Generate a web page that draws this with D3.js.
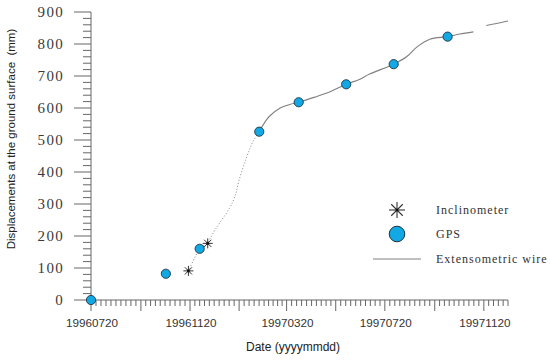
<!DOCTYPE html>
<html><head><meta charset="utf-8">
<script src="https://cdn.jsdelivr.net/npm/d3@7"></script>
<style>body{margin:0;background:#fff}svg{display:block}</style>
</head><body>
<svg id="c" width="550" height="361"></svg>
<script>
// ---------- data ----------
const yTicks = [0,100,200,300,400,500,600,700,800,900];
const xTickLabels = ["19960720","19961120","19970320","19970720","19971120"];
const xDomain = ["19960720","19971220"];
const gpsDates = ["19960720","19961021","19961202","19970214","19970404","19970602","19970731","19971006"];
const gpsValues = [0,82,160,526,618,674,737,823];
const inclDates = ["19961118","19961212"];
const inclValues = [91,177];
// extensometric wire: dotted part, solid part, final solid piece
const wireDottedDates = ["19961118","19961202","19961212","19961221","19970108","19970115","19970120","19970129","19970206","19970214"];
const wireDottedValues = [90,159,181,219,287,325,375,444,494,526];
const wireSolidDates = ["19970214","19970221","19970227","19970312","19970324","19970404","19970424","19970513","19970602","19970619","19970701","19970731","19970816","19970829","19970914","19971006","19971021","19971107"];
const wireSolidValues = [526,556,575,600,611,618,634,651,674,690,706,737,760,791,815,823,831,838];
const wireEndDates = ["19971123","19971206","19971220"];
const wireEndValues = [858,864,872];

// ---------- setup ----------
const parse = d3.timeParse("%Y%m%d");
const svg = d3.select("#c");
const x = d3.scaleTime().domain(xDomain.map(parse)).range([91,508]);
const y = d3.scaleLinear().domain([0,900]).range([300,12]);
const axisColor = "#666";

// y axis
const gy = svg.append("g");
gy.append("line").attr("x1",91).attr("x2",91).attr("y1",y(900)).attr("y2",y(0)).attr("stroke",axisColor).attr("stroke-width",1);
d3.range(0,901,20).forEach(v=>{
  const major = v%100===0;
  gy.append("line").attr("x1",major?74:83).attr("x2",91).attr("y1",y(v)).attr("y2",y(v))
    .attr("stroke",axisColor).attr("stroke-width",1);
});
gy.selectAll("text.yl").data(yTicks).enter().append("text")
  .attr("x",64).attr("y",d=>y(d)+5).attr("text-anchor","end")
  .attr("font-family","Liberation Serif").attr("font-size",15).attr("letter-spacing",1.3)
  .attr("fill","#3a3a3a").text(d=>d);

// x axis
const gx = svg.append("g");
gx.append("line").attr("x1",91).attr("x2",508).attr("y1",300).attr("y2",300).attr("stroke",axisColor);
const start = parse(xDomain[0]);
const nMonths = 17;
for(let m=0;m<nMonths;m++){
  const a = d3.timeMonth.offset(start,m), b = d3.timeMonth.offset(start,m+1);
  for(let k=0;k<5;k++){
    const px = x(a) + (x(b)-x(a))*k/5;
    const long = (k===0 && m%2===0);
    gx.append("line").attr("x1",px).attr("x2",px).attr("y1",300).attr("y2",long?311:306)
      .attr("stroke",axisColor);
  }
}
{ const px = x(d3.timeMonth.offset(start,nMonths));
  gx.append("line").attr("x1",px).attr("x2",px).attr("y1",300).attr("y2",306).attr("stroke",axisColor); }
gx.selectAll("text.xl").data(xTickLabels).enter().append("text")
  .attr("x",d=>x(parse(d))+1).attr("y",327).attr("text-anchor","middle")
  .attr("font-family","Liberation Sans").attr("font-size",11.7).attr("fill","#333").text(d=>d);

// titles
svg.append("text").attr("x",293).attr("y",351).attr("text-anchor","middle")
  .attr("font-family","Liberation Sans").attr("font-size",12).attr("fill","#222").text("Date (yyyymmdd)");
svg.append("text").attr("transform","translate(15,139) rotate(-90)").attr("text-anchor","middle")
  .attr("font-family","Liberation Sans").attr("font-size",11.5).attr("fill","#222")
  .style("white-space","pre").text("Displacements at the ground surface  (mm)");

// wire
const line = d3.line().x(d=>x(d[0])).y(d=>y(d[1])).curve(d3.curveCatmullRom);
const zip = (ds,vs)=>ds.map((d,i)=>[parse(d),vs[i]]);
svg.append("path").attr("d",line(zip(wireDottedDates,wireDottedValues)))
  .attr("fill","none").attr("stroke","#888").attr("stroke-width",1).attr("stroke-dasharray","1,2");
svg.append("path").attr("d",line(zip(wireSolidDates,wireSolidValues)))
  .attr("fill","none").attr("stroke","#808080").attr("stroke-width",1.1);
svg.append("path").attr("d",line(zip(wireEndDates,wireEndValues)))
  .attr("fill","none").attr("stroke","#808080").attr("stroke-width",1.1);

// star symbol
function star(g,cx,cy,r,sw){
  const s = g.append("g").attr("transform",`translate(${cx},${cy})`);
  const d = r*0.72;
  [[-r,0,r,0],[0,-r,0,r],[-d,-d,d,d],[-d,d,d,-d]].forEach(l=>
    s.append("line").attr("x1",l[0]).attr("y1",l[1]).attr("x2",l[2]).attr("y2",l[3])
      .attr("stroke","#333").attr("stroke-width",sw));
  s.append("rect").attr("x",-1.3).attr("y",-1.3).attr("width",2.6).attr("height",2.6).attr("fill","#111");
}
zip(inclDates,inclValues).forEach(p=>star(svg,x(p[0]),y(p[1]),5,1));

// GPS
svg.selectAll("circle.gps").data(zip(gpsDates,gpsValues)).enter().append("circle")
  .attr("cx",d=>x(d[0])).attr("cy",d=>y(d[1])).attr("r",4.6)
  .attr("fill","#12a8e4").attr("stroke","#1d3444").attr("stroke-width",0.9);

// legend
const lg = svg.append("g");
star(lg,397,210,8,1.1);
lg.append("circle").attr("cx",397).attr("cy",234).attr("r",7.8).attr("fill","#12a8e4").attr("stroke","#1d3444").attr("stroke-width",1);
lg.append("line").attr("x1",373).attr("x2",421).attr("y1",259).attr("y2",259).attr("stroke","#808080").attr("stroke-width",1.1);
[["Inclinometer",210],["GPS",234],["Extensometric wire",259]].forEach(t=>
  lg.append("text").attr("x",436).attr("y",t[1]+4).attr("font-family","Liberation Serif")
    .attr("font-size",12).attr("letter-spacing",1).attr("fill","#333").text(t[0]));
</script>
</body></html>
